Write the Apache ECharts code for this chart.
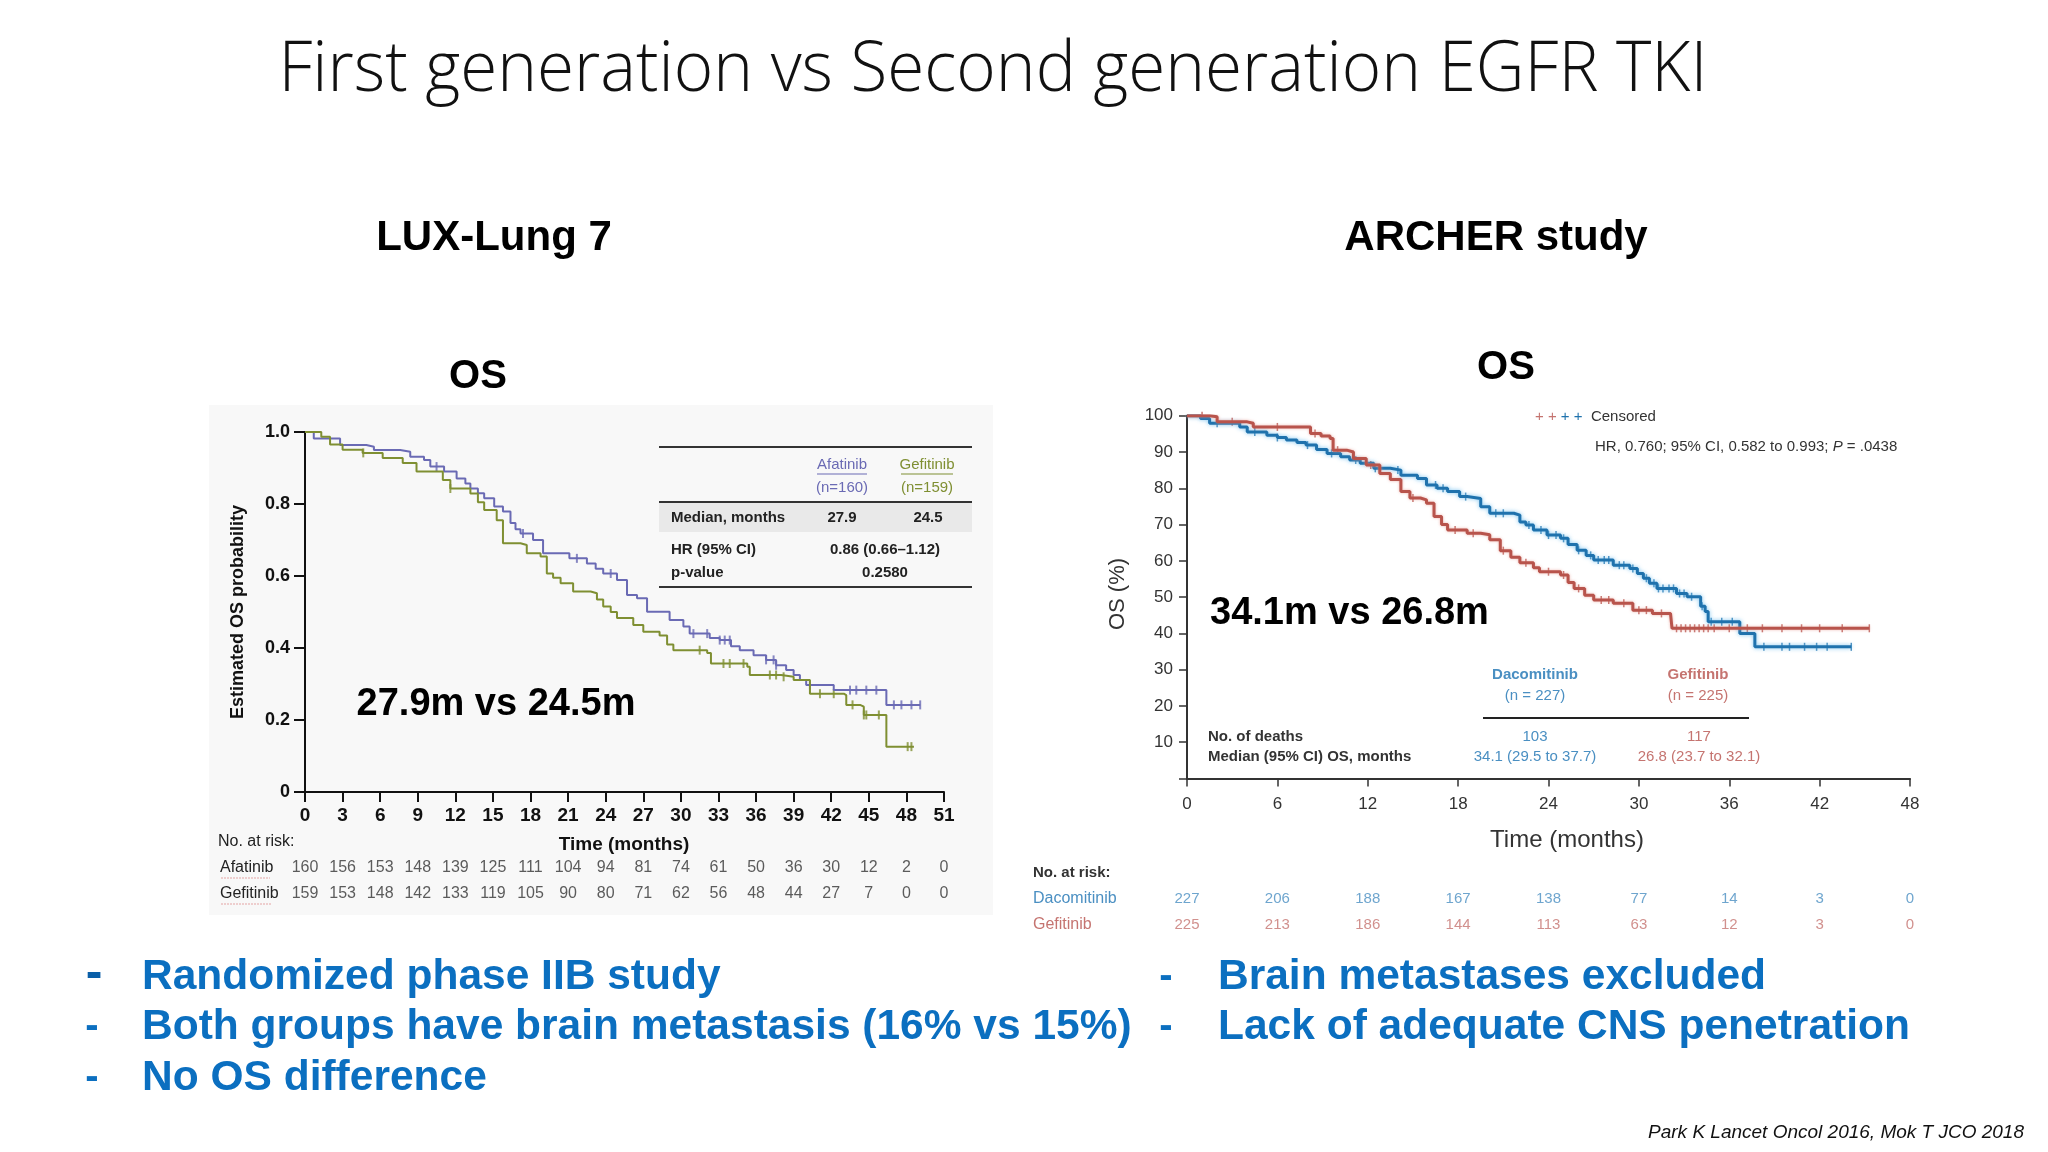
<!DOCTYPE html>
<html>
<head>
<meta charset="utf-8">
<script src="https://cdn.jsdelivr.net/npm/echarts@6/dist/echarts.min.js"></script>
<style>
html,body{margin:0;padding:0;background:#fff;}
#main{width:2048px;height:1152px;}
</style>
</head>
<body>
<div id="main"></div>
<script>
// ---------------- DATA ----------------
const slideTitle = 'First generation vs Second generation EGFR TKI';
const footnote = 'Park K Lancet Oncol 2016, Mok T JCO 2018';
const leftBullets = ['Randomized phase IIB study', 'Both groups have brain metastasis (16% vs 15%)', 'No OS difference'];
const rightBullets = ['Brain metastases excluded', 'Lack of adequate CNS penetration'];

// LUX-Lung 7 (Kaplan-Meier, step points [month, probability])
const luxAfatinibKM = [[0,1.0],[0.7,0.982],[2.8,0.964],[4.9,0.959],[5.5,0.950],[7.6,0.945],[8.4,0.931],[9.5,0.922],[10.0,0.904],[11.1,0.890],[12.1,0.871],[12.8,0.857],[13.2,0.843],[13.8,0.830],[14.3,0.816],[15.1,0.793],[15.8,0.779],[16.4,0.747],[16.8,0.730],[17.2,0.718],[18.2,0.700],[19.0,0.663],[21.1,0.649],[22.5,0.635],[23.2,0.620],[23.8,0.607],[24.9,0.589],[25.7,0.547],[26.5,0.538],[27.3,0.501],[29.1,0.478],[30.2,0.460],[30.7,0.440],[32.3,0.428],[33.1,0.422],[34.0,0.405],[34.7,0.394],[35.8,0.380],[36.8,0.367],[37.6,0.352],[38.4,0.339],[39.0,0.325],[39.5,0.311],[40.0,0.297],[42.2,0.283],[46.4,0.242],[49.1,0.242]];
const luxGefitinibKM = [[0,1.0],[1.3,0.987],[2.0,0.965],[3.0,0.951],[4.6,0.942],[6.2,0.928],[7.8,0.914],[8.9,0.890],[11.0,0.867],[11.6,0.843],[13.2,0.829],[13.8,0.805],[14.3,0.783],[15.3,0.755],[15.8,0.691],[17.2,0.686],[17.7,0.663],[18.8,0.654],[19.3,0.607],[19.8,0.595],[20.4,0.580],[21.4,0.557],[22.8,0.552],[23.3,0.535],[23.8,0.515],[24.4,0.500],[24.9,0.483],[26.2,0.464],[27.0,0.445],[28.3,0.435],[28.9,0.410],[29.4,0.394],[32.1,0.386],[32.4,0.357],[35.3,0.348],[35.5,0.325],[38.0,0.320],[39.0,0.311],[40.3,0.273],[43.0,0.269],[43.2,0.242],[44.3,0.237],[44.6,0.214],[46.4,0.126],[48.6,0.126]];
const luxAfatinibCensor = [10.5,17.4,21.7,24.4,31.0,32.1,33.1,33.5,33.9,36.8,37.4,37.6,40.3,43.5,44.0,44.8,45.6,47.0,47.6,48.4,49.1];
const luxGefitinibCensor = [4.65,11.6,31.5,33.4,33.9,35.0,37.1,37.6,38.2,41.1,42.2,43.7,44.6,44.8,45.8,48.1,48.4];
const luxRiskTimes = [0,3,6,9,12,15,18,21,24,27,30,33,36,39,42,45,48,51];
const luxRiskAfatinib = [160,156,153,148,139,125,111,104,94,81,74,61,50,36,30,12,2,0];
const luxRiskGefitinib = [159,153,148,142,133,119,105,90,80,71,62,56,48,44,27,7,0,0];
const luxYTicks = ['0','0.2','0.4','0.6','0.8','1.0'];

// ARCHER 1050 (Kaplan-Meier, step points [month, OS %])
const archerDacoKM = [[0,100],[0.9,99.2],[1.5,97.9],[3.5,96.9],[4.0,95.5],[5.3,94.6],[6.0,94.0],[6.6,93.3],[7.3,92.6],[7.9,91.9],[8.6,90.7],[9.3,89.6],[10.2,88.7],[10.8,87.8],[11.5,86.9],[12.4,85.5],[13.5,85.0],[14.2,83.6],[15.3,82.7],[15.9,80.9],[16.6,80.0],[17.3,79.1],[18.1,77.7],[18.6,77.2],[19.5,74.9],[20.1,73.1],[21.7,72.6],[22.1,70.7],[22.5,69.9],[23.0,68.5],[23.9,67.1],[24.8,66.2],[25.3,64.5],[25.9,62.9],[26.5,61.5],[27.0,60.2],[28.3,58.8],[29.4,57.9],[29.9,56.5],[30.3,55.2],[30.7,53.8],[31.2,52.4],[32.5,51.0],[33.2,50.1],[34.1,47.5],[34.4,46.0],[34.6,43.2],[36.7,40.0],[37.7,36.3],[44.1,36.3]];
const archerGefKM = [[0,100],[1.5,99.7],[2.0,98.3],[4.0,97.9],[4.4,96.9],[8.2,95.1],[8.9,94.4],[9.5,93.7],[9.7,90.5],[10.6,90.0],[11.05,88.2],[11.9,86.4],[12.8,84.1],[13.5,82.4],[14.2,79.1],[14.8,77.3],[15.5,76.8],[15.9,75.9],[16.4,72.2],[16.9,70.0],[17.3,68.5],[18.6,67.6],[19.5,67.2],[20.1,65.8],[20.8,62.8],[21.5,61.0],[22.1,59.5],[23.0,58.1],[23.4,57.0],[24.8,56.1],[25.3,54.0],[25.7,52.4],[26.4,50.5],[27.0,49.2],[28.3,48.3],[29.6,46.4],[30.9,45.5],[32.1,45.1],[32.2,41.4],[45.3,41.4]];
const archerDacoCensor = [2.0,4.5,6.0,8.0,9.6,11.2,12.5,14.0,16.5,17.0,18.5,20.5,21.0,22.7,23.5,24.0,24.5,25.0,26.0,26.8,27.3,27.7,28.0,28.7,29.0,29.6,30.5,31.0,31.3,31.6,32.0,32.3,32.7,33.0,33.5,34.2,34.8,35.5,36.2,38.3,39.5,40.0,41.0,41.8,42.5,44.1];
const archerGefCensor = [1.0,3.0,6.0,8.5,10.0,12.2,15.0,17.8,19.0,21.0,22.5,24.0,25.0,26.0,27.5,28.0,29.0,30.0,30.5,31.5,32.5,32.8,33.1,33.4,33.7,34.0,34.3,34.6,35.0,36.0,37.2,38.2,39.5,40.8,42.0,43.5,45.3];
const archerRiskTimes = [0,6,12,18,24,30,36,42,48];
const archerRiskDaco = [227,206,188,167,138,77,14,3,0];
const archerRiskGef = [225,213,186,144,113,63,12,3,0];

// ---------------- STYLE ----------------
const NARROW = '"Liberation Sans Narrow","Arial Narrow","Liberation Sans",Arial,sans-serif';
const ARIAL = '"Liberation Sans",Arial,sans-serif';
const C_AFA = '#6a6ab4', C_GEF1 = '#7f8f32';
const C_DACO = '#1f72ad', C_GEF2 = '#b8544c';
const C_DACO_T = '#4a8fc2', C_GEF2_T = '#c57470';
const BLUE = '#0b6fc0';

function kmAt(km, t) {
  let v = km[0][1];
  for (const p of km) { if (p[0] <= t) v = p[1]; else break; }
  return v;
}
function censorPts(km, times) { return times.map(t => [t, kmAt(km, t)]); }

function T(x, y, text, o) {
  o = o || {};
  const align = o.align || 'left', va = o.va || 'middle';
  return {
    type: 'text', x: x, y: y, scaleX: o.scaleX || 1, z: 100, silent: true,
    style: {
      text: text, fill: o.color || '#222',
      font: (o.style || 'normal') + ' ' + (o.weight || 'normal') + ' ' + (o.size || 16) + 'px ' + (o.family || NARROW),
      align: align, verticalAlign: va, textAlign: align, textVerticalAlign: va,
      rich: o.rich
    }
  };
}
function L(x1, y1, x2, y2, color, w, dash) {
  return { type: 'line', z: 50, silent: true, shape: {x1, y1, x2, y2},
    style: { stroke: color, lineWidth: w || 1.5, lineDash: dash || null } };
}

// title width fitting (Calibri Light substitute)
const titleFont = '300 70px "Open Sans","Noto Sans",sans-serif';
const cv = document.createElement('canvas').getContext('2d');
cv.font = titleFont;
const titleW = cv.measureText(slideTitle).width || 1429;
const titleScale = 1429 / titleW;

const chart = echarts.init(document.getElementById('main'), null, {renderer: 'canvas'});

const graphics = [
  // left chart image background
  { type: 'rect', z: 0, silent: true, shape: {x: 209, y: 405, width: 784, height: 510}, style: {fill: '#f8f8f8'} },
  { type: 'text', x: 993, y: 71, scaleX: titleScale, z: 100, silent: true,
    style: { text: slideTitle, font: titleFont, fill: '#111', align: 'center', verticalAlign: 'middle', textAlign: 'center', textVerticalAlign: 'middle' } },
  T(494, 238, 'LUX-Lung 7', {size: 42, weight: 'bold', family: ARIAL, color: '#000', align: 'center'}),
  T(1496, 238, 'ARCHER study', {size: 42, weight: 'bold', family: ARIAL, color: '#000', align: 'center'}),
  T(478, 377, 'OS', {size: 40, weight: 'bold', family: ARIAL, color: '#000', align: 'center'}),
  T(1506, 368, 'OS', {size: 40, weight: 'bold', family: ARIAL, color: '#000', align: 'center'}),

  // ---- left chart texts ----
  { type: 'text', x: 238, y: 612, rotation: Math.PI / 2, z: 100, silent: true,
    style: { text: 'Estimated OS probability', font: 'bold 18px ' + NARROW, fill: '#111', align: 'center', verticalAlign: 'middle', textAlign: 'center', textVerticalAlign: 'middle' } },
  T(624, 845, 'Time (months)', {size: 19, weight: 'bold', color: '#111', align: 'center'}),
  T(218, 842, 'No. at risk:', {size: 16, color: '#222'}),
  L(221, 878, 270, 878, '#e3a3a3', 1.2, [2, 1]),
  L(221, 904, 272, 904, '#e3a3a3', 1.2, [2, 1]),
  T(496, 705, '27.9m vs 24.5m', {size: 38, weight: 'bold', family: ARIAL, color: '#000', align: 'center'}),
  // stats table
  { type: 'rect', z: 40, silent: true, shape: {x: 659, y: 502, width: 313, height: 30}, style: {fill: '#e9e9e9'} },
  L(659, 447, 972, 447, '#333', 2),
  L(659, 502, 972, 502, '#333', 2),
  L(659, 587, 972, 587, '#333', 2),
  T(842, 465, 'Afatinib', {size: 15, color: C_AFA, align: 'center'}),
  T(842, 488, '(n=160)', {size: 15, color: C_AFA, align: 'center'}),
  L(817, 474, 867, 474, C_AFA, 1),
  T(927, 465, 'Gefitinib', {size: 15, color: C_GEF1, align: 'center'}),
  T(927, 488, '(n=159)', {size: 15, color: C_GEF1, align: 'center'}),
  L(901, 474, 953, 474, C_GEF1, 1),
  T(671, 518, 'Median, months', {size: 15, weight: 'bold', color: '#222'}),
  T(842, 518, '27.9', {size: 15, weight: 'bold', color: '#222', align: 'center'}),
  T(928, 518, '24.5', {size: 15, weight: 'bold', color: '#222', align: 'center'}),
  T(671, 550, 'HR (95% CI)', {size: 15, weight: 'bold', color: '#222'}),
  T(885, 550, '0.86 (0.66\u20131.12)', {size: 15, weight: 'bold', color: '#222', align: 'center'}),
  T(671, 573, 'p-value', {size: 15, weight: 'bold', color: '#222'}),
  T(885, 573, '0.2580', {size: 15, weight: 'bold', color: '#222', align: 'center'}),

  // ---- right chart texts ----
  { type: 'text', x: 1118, y: 594, rotation: Math.PI / 2, z: 100, silent: true,
    style: { text: 'OS (%)', font: '22px ' + NARROW, fill: '#333', align: 'center', verticalAlign: 'middle', textAlign: 'center', textVerticalAlign: 'middle' } },
  T(1567, 840, 'Time (months)', {size: 24, color: '#333', align: 'center'}),
  T(1033, 873, 'No. at risk:', {size: 15, weight: 'bold', color: '#333'}),
  T(1535, 417, '{r|+ + }{b|+ +}  Censored', {size: 15, color: '#333',
    rich: { r: {fill: C_GEF2_T, font: '15px ' + NARROW}, b: {fill: C_DACO, font: '15px ' + NARROW} }}),
  T(1595, 447, 'HR, 0.760; 95% CI, 0.582 to 0.993; {i|P} = .0438', {size: 15, color: '#333',
    rich: { i: {font: 'italic 15px ' + NARROW, fill: '#333'} }}),
  T(1210, 614, '34.1m vs 26.8m', {size: 38, weight: 'bold', family: ARIAL, color: '#000'}),
  T(1535, 675, 'Dacomitinib', {size: 15, weight: 'bold', color: C_DACO_T, align: 'center'}),
  T(1535, 696, '(n = 227)', {size: 15, color: C_DACO_T, align: 'center'}),
  T(1698, 675, 'Gefitinib', {size: 15, weight: 'bold', color: C_GEF2_T, align: 'center'}),
  T(1698, 696, '(n = 225)', {size: 15, color: C_GEF2_T, align: 'center'}),
  L(1483, 718, 1749, 718, '#222', 2),
  T(1208, 737, 'No. of deaths', {size: 15, weight: 'bold', color: '#333'}),
  T(1208, 757, 'Median (95% CI) OS, months', {size: 15, weight: 'bold', color: '#333'}),
  T(1535, 737, '103', {size: 15, color: C_DACO_T, align: 'center'}),
  T(1535, 757, '34.1 (29.5 to 37.7)', {size: 15, color: C_DACO_T, align: 'center'}),
  T(1699, 737, '117', {size: 15, color: C_GEF2_T, align: 'center'}),
  T(1699, 757, '26.8 (23.7 to 32.1)', {size: 15, color: C_GEF2_T, align: 'center'}),

  T(2024, 1133, footnote, {size: 19, style: 'italic', family: ARIAL, color: '#111', align: 'right'})
];
const bulletY = [977, 1027, 1078];
leftBullets.forEach((b, i) => {
  graphics.push(T(i === 0 ? 94 : 92, bulletY[i] - (i === 0 ? 3 : 0), '-', {size: i === 0 ? 50 : 40, weight: 'bold', family: ARIAL, color: i === 0 ? '#0a5fa8' : BLUE, align: 'center'}));
  graphics.push(T(142, bulletY[i], b, {size: 42.5, weight: 'bold', family: ARIAL, color: BLUE}));
});
rightBullets.forEach((b, i) => {
  graphics.push(T(1166, bulletY[i], '-', {size: 40, weight: 'bold', family: ARIAL, color: BLUE, align: 'center'}));
  graphics.push(T(1218, bulletY[i], b, {size: 42.5, weight: 'bold', family: ARIAL, color: BLUE}));
});

function riskSeries(xi, yi, times, vals, cat, color, size) {
  return {
    type: 'scatter', xAxisIndex: xi, yAxisIndex: yi, silent: true, symbolSize: 1,
    itemStyle: {color: 'rgba(0,0,0,0)'},
    data: times.map((t, i) => [t, cat, vals[i]]),
    label: { show: true, position: 'inside', formatter: p => String(p.data[2]),
      color: color, fontFamily: NARROW, fontSize: size }
  };
}

const option = {
  animation: false,
  backgroundColor: '#ffffff',
  grid: [
    {left: 305, top: 432, width: 639, height: 360, show: true, backgroundColor: '#fdfdfd', borderWidth: 0},
    {left: 305, top: 855, width: 639, height: 52},
    {left: 1187, top: 415.7, width: 723, height: 362.8},
    {left: 1187, top: 886, width: 723, height: 52}
  ],
  xAxis: [
    {gridIndex: 0, type: 'value', min: 0, max: 51, interval: 3,
      axisLine: {show: true, onZero: false, lineStyle: {color: '#111', width: 2}},
      axisTick: {show: true, inside: false, length: 10, lineStyle: {color: '#111', width: 2}},
      axisLabel: {margin: 14, fontFamily: NARROW, fontWeight: 'bold', fontSize: 19, color: '#111'},
      splitLine: {show: false}},
    {gridIndex: 1, type: 'value', min: 0, max: 51, show: false},
    {gridIndex: 2, type: 'value', min: 0, max: 48, interval: 6,
      axisLine: {show: true, onZero: false, lineStyle: {color: '#333', width: 2}},
      axisTick: {show: true, inside: false, length: 8, lineStyle: {color: '#333', width: 1.5}},
      axisLabel: {margin: 17, fontFamily: NARROW, fontSize: 17, color: '#333'},
      splitLine: {show: false}},
    {gridIndex: 3, type: 'value', min: 0, max: 48, show: false}
  ],
  yAxis: [
    {gridIndex: 0, type: 'value', min: 0, max: 1, interval: 0.2,
      axisLine: {show: true, onZero: false, lineStyle: {color: '#111', width: 2}},
      axisTick: {show: true, inside: false, length: 11, lineStyle: {color: '#111', width: 2}},
      axisLabel: {margin: 15, fontFamily: NARROW, fontWeight: 'bold', fontSize: 18, color: '#111',
        formatter: v => luxYTicks[Math.round(v * 5)]},
      splitLine: {show: false}},
    {gridIndex: 1, type: 'category', data: ['Gefitinib', 'Afatinib'],
      axisLine: {show: false}, axisTick: {show: false},
      axisLabel: {align: 'left', margin: 85, fontFamily: NARROW, fontSize: 16, color: '#222'}},
    {gridIndex: 2, type: 'value', min: 0, max: 100, interval: 10,
      axisLine: {show: true, onZero: false, lineStyle: {color: '#333', width: 2}},
      axisTick: {show: true, inside: false, length: 8, lineStyle: {color: '#333', width: 1.5}},
      axisLabel: {margin: 14, fontFamily: NARROW, fontSize: 17, color: '#333',
        formatter: v => v === 0 ? '' : String(v)},
      splitLine: {show: false}},
    {gridIndex: 3, type: 'category', data: ['Gefitinib', 'Dacomitinib'],
      axisLine: {show: false}, axisTick: {show: false},
      axisLabel: {align: 'left', margin: 154, fontFamily: NARROW, fontSize: 16,
        color: (v) => v === 'Dacomitinib' ? C_DACO_T : C_GEF2_T}}
  ],
  series: [
    {type: 'line', xAxisIndex: 0, yAxisIndex: 0, step: 'end', showSymbol: false, silent: true,
      data: luxAfatinibKM, lineStyle: {color: C_AFA, width: 2}},
    {type: 'line', xAxisIndex: 0, yAxisIndex: 0, step: 'end', showSymbol: false, silent: true,
      data: luxGefitinibKM, lineStyle: {color: C_GEF1, width: 2}},
    {type: 'scatter', xAxisIndex: 0, yAxisIndex: 0, silent: true, symbol: 'rect', symbolSize: [2, 9],
      itemStyle: {color: C_AFA}, data: censorPts(luxAfatinibKM, luxAfatinibCensor)},
    {type: 'scatter', xAxisIndex: 0, yAxisIndex: 0, silent: true, symbol: 'rect', symbolSize: [2, 9],
      itemStyle: {color: C_GEF1}, data: censorPts(luxGefitinibKM, luxGefitinibCensor)},
    riskSeries(1, 1, luxRiskTimes, luxRiskAfatinib, 'Afatinib', '#333', 16),
    riskSeries(1, 1, luxRiskTimes, luxRiskGefitinib, 'Gefitinib', '#333', 16),

    {type: 'line', xAxisIndex: 2, yAxisIndex: 2, step: 'end', showSymbol: false, silent: true,
      data: archerDacoKM, lineStyle: {color: C_DACO, width: 3, shadowColor: 'rgba(90,180,235,0.8)', shadowBlur: 4}},
    {type: 'line', xAxisIndex: 2, yAxisIndex: 2, step: 'end', showSymbol: false, silent: true,
      data: archerGefKM, lineStyle: {color: C_GEF2, width: 3, shadowColor: 'rgba(230,150,140,0.7)', shadowBlur: 3}},
    {type: 'scatter', xAxisIndex: 2, yAxisIndex: 2, silent: true, symbol: 'rect', symbolSize: [1.5, 8],
      itemStyle: {color: C_DACO}, data: censorPts(archerDacoKM, archerDacoCensor)},
    {type: 'scatter', xAxisIndex: 2, yAxisIndex: 2, silent: true, symbol: 'rect', symbolSize: [1.5, 8],
      itemStyle: {color: C_GEF2}, data: censorPts(archerGefKM, archerGefCensor)},
    riskSeries(3, 3, archerRiskTimes, archerRiskDaco, 'Dacomitinib', C_DACO_T, 15),
    riskSeries(3, 3, archerRiskTimes, archerRiskGef, 'Gefitinib', C_GEF2_T, 15)
  ],
  graphic: {elements: graphics}
};
chart.setOption(option);
</script>
</body>
</html>
